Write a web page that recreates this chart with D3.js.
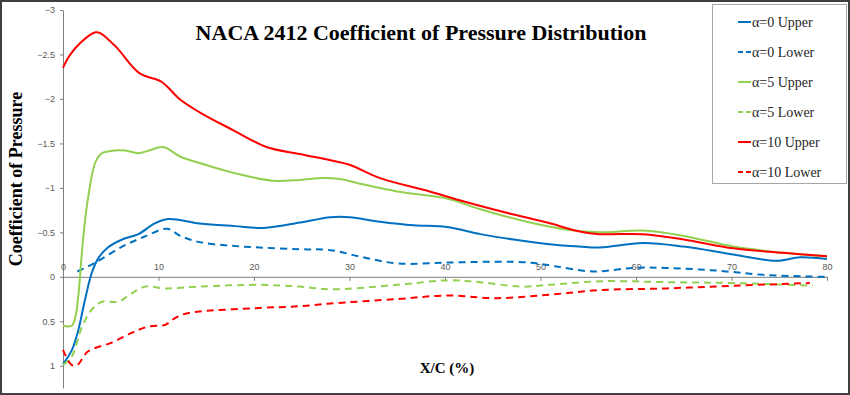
<!DOCTYPE html>
<html>
<head>
<meta charset="utf-8">
<script src="https://cdn.jsdelivr.net/npm/d3@7"></script>
<style>
  body { margin: 0; background: #fff; }
  svg { display: block; }
  .tick text { font-family: "Liberation Sans", Arial, sans-serif; font-size: 9px; fill: #595959; }
  .axis path, .axis line { stroke: #7f7f7f; }
</style>
</head>
<body>
<svg width="850" height="395"></svg>
<script>
// x/c (%) and Cp pairs
var a0Upper = [[0,0.98],[0.9,0.83],[1.6,0.6],[2.3,0.26],[3,-0.04],[3.7,-0.21],[4.7,-0.33],[6.2,-0.42],[7.9,-0.48],[9.6,-0.6],[11,-0.65],[14.3,-0.6],[18,-0.57],[21,-0.55],[24.8,-0.61],[28,-0.67],[30,-0.67],[33.2,-0.62],[36.7,-0.58],[40.2,-0.56],[43.7,-0.48],[47.2,-0.42],[50.7,-0.37],[54.1,-0.34],[56.2,-0.33],[60.7,-0.38],[65,-0.34],[70.2,-0.25],[74.7,-0.18],[77.2,-0.22],[80,-0.2]];
var a0Lower = [[1.5,-0.06],[3.4,-0.16],[6.2,-0.34],[8.5,-0.45],[10.9,-0.54],[12.3,-0.46],[14.3,-0.39],[17.5,-0.35],[20.6,-0.33],[24.8,-0.31],[28,-0.3],[31.4,-0.22],[35,-0.15],[40.2,-0.16],[45.4,-0.17],[48.9,-0.16],[51.5,-0.12],[55.5,-0.06],[59.7,-0.1],[63.2,-0.1],[68.4,-0.07],[73.7,-0.02],[80,0]];
var a5Upper = [[0,0.55],[0.9,0.55],[1.3,0.45],[1.6,0.22],[2.1,-0.42],[2.6,-0.87],[3.4,-1.29],[4.1,-1.39],[5.4,-1.42],[6.5,-1.42],[7.9,-1.39],[9,-1.42],[10.5,-1.46],[12.3,-1.35],[14.3,-1.28],[17.8,-1.17],[22,-1.08],[24.8,-1.09],[27.2,-1.11],[29,-1.1],[31.4,-1.04],[35,-0.96],[40.2,-0.88],[43.7,-0.76],[48.9,-0.61],[52.8,-0.53],[56.2,-0.5],[60.7,-0.52],[65,-0.46],[70.2,-0.34],[75.4,-0.27],[80,-0.23]];
var a5Lower = [[0,0.99],[0.9,0.9],[2,0.56],[3,0.37],[4.1,0.28],[5.8,0.28],[7,0.2],[8.6,0.11],[10.7,0.13],[14.3,0.11],[20.6,0.09],[24.8,0.11],[28,0.14],[35,0.09],[40.2,0.04],[43.7,0.06],[47.9,0.11],[51,0.09],[56.2,0.05],[63.2,0.06],[70.2,0.07],[78.5,0.1]];
var a10Upper = [[0,-2.35],[0.7,-2.49],[1.8,-2.63],[3.4,-2.75],[3.9,-2.74],[5.6,-2.58],[8,-2.29],[10.2,-2.2],[10.9,-2.14],[12.3,-1.99],[14.3,-1.85],[17.8,-1.65],[21.3,-1.46],[24.8,-1.38],[28,-1.31],[30,-1.26],[33.2,-1.11],[38.4,-0.96],[41.9,-0.85],[47.2,-0.7],[50.7,-0.61],[54.1,-0.51],[56.2,-0.48],[60.7,-0.48],[65,-0.42],[70.2,-0.32],[75.4,-0.27],[80,-0.23]];
var a10Lower = [[0,0.82],[0.9,0.99],[1.5,0.99],[2.6,0.84],[5.1,0.74],[7.2,0.63],[8.9,0.56],[10.7,0.54],[11.5,0.48],[12.6,0.42],[14.3,0.39],[20.6,0.35],[24.8,0.33],[28,0.3],[35,0.25],[40.2,0.21],[45.4,0.24],[51,0.2],[56.2,0.15],[63.2,0.13],[70.2,0.1],[78.2,0.07]];

var seriesNames = ["α=0 Upper", "α=0 Lower", "α=5 Upper", "α=5 Lower", "α=10 Upper", "α=10 Lower"];
var xTicks = [0, 10, 20, 30, 40, 50, 60, 70, 80];
var yTicks = [-3, -2.5, -2, -1.5, -1, -0.5, 0, 0.5, 1];

var series = [
  {name: seriesNames[0], data: a0Upper, color: "#0070c0", dash: null},
  {name: seriesNames[1], data: a0Lower, color: "#0070c0", dash: "7,5"},
  {name: seriesNames[2], data: a5Upper, color: "#92d050", dash: null},
  {name: seriesNames[3], data: a5Lower, color: "#92d050", dash: "7,5"},
  {name: seriesNames[4], data: a10Upper, color: "#ff0000", dash: null},
  {name: seriesNames[5], data: a10Lower, color: "#ff0000", dash: "7,5"}
];

var svg = d3.select("svg"),
    width = +svg.attr("width"),
    height = +svg.attr("height");

var x = d3.scaleLinear().domain([0, 80]).range([63, 827]),
    y = d3.scaleLinear().domain([-3, 1.25]).range([10, 388]);

// outer frame
svg.append("rect")
    .attr("x", 1).attr("y", 1)
    .attr("width", width - 2).attr("height", height - 2)
    .attr("fill", "#fff")
    .attr("stroke", "#404040")
    .attr("stroke-width", 2);

// y axis
svg.append("g")
    .attr("class", "axis")
    .attr("transform", "translate(" + x(0) + ",0)")
    .call(d3.axisLeft(y).tickValues(yTicks).tickSize(3).tickSizeOuter(0).tickPadding(5)
      .tickFormat(function(d) { return d3.format("")(d); }));

// x axis along Cp = 0, labels above the line
var xg = svg.append("g")
    .attr("class", "axis")
    .attr("transform", "translate(0," + y(0) + ")")
    .call(d3.axisBottom(x).tickValues(xTicks).tickSize(4).tickSizeOuter(0));
xg.selectAll(".tick text").attr("y", -7).attr("dy", "0");

var line = d3.line()
    .x(function(d) { return x(d[0]); })
    .y(function(d) { return y(d[1]); })
    .curve(d3.curveCatmullRom.alpha(0.5));

svg.append("g").selectAll("path")
    .data(series)
  .enter().append("path")
    .attr("d", function(d) { return line(d.data); })
    .attr("fill", "none")
    .attr("stroke", function(d) { return d.color; })
    .attr("stroke-width", 2)
    .attr("stroke-dasharray", function(d) { return d.dash; });

// titles
svg.append("text")
    .attr("x", 421).attr("y", 40)
    .attr("text-anchor", "middle")
    .style("font-family", "'Liberation Serif', 'Times New Roman', serif")
    .style("font-weight", "bold")
    .style("font-size", "22px")
    .text("NACA 2412 Coefficient of Pressure Distribution");

svg.append("text")
    .attr("transform", "translate(22,179) rotate(-90)")
    .attr("text-anchor", "middle")
    .style("font-family", "'Liberation Serif', 'Times New Roman', serif")
    .style("font-weight", "bold")
    .style("font-size", "18px")
    .text("Coefficient of Pressure");

svg.append("text")
    .attr("x", 447).attr("y", 373)
    .attr("text-anchor", "middle")
    .style("font-family", "'Liberation Serif', 'Times New Roman', serif")
    .style("font-weight", "bold")
    .style("font-size", "15px")
    .text("X/C (%)");

// legend
var legendBox = svg.append("g");
legendBox.append("rect")
    .attr("x", 712.5).attr("y", 4.5)
    .attr("width", 134).attr("height", 179)
    .attr("fill", "#fff")
    .attr("stroke", "#a6a6a6");

var legend = legendBox.selectAll("g")
    .data(series)
  .enter().append("g")
    .attr("transform", function(d, i) { return "translate(0," + (22 + i * 30) + ")"; });

legend.append("line")
    .attr("x1", 738).attr("x2", 751)
    .attr("stroke", function(d) { return d.color; })
    .attr("stroke-width", 2)
    .attr("stroke-dasharray", function(d) { return d.dash ? "5,3" : null; });

legend.append("text")
    .attr("x", 752).attr("y", 0)
    .attr("dy", "0.35em")
    .style("font-family", "'Liberation Serif', 'Times New Roman', serif")
    .style("font-size", "14px")
    .style("fill", "#262626")
    .text(function(d) { return d.name; });
</script>
</body>
</html>
